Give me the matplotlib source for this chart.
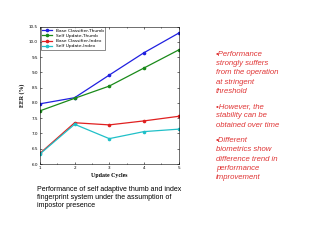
import matplotlib
matplotlib.use("Agg")
import matplotlib.pyplot as plt
from matplotlib.ticker import MultipleLocator

# update cycles and EER (%)
cycles = [1, 2, 3, 4, 5]
base_thumb = [7.97, 8.17, 8.91, 9.64, 10.28]
self_thumb = [7.74, 8.15, 8.55, 9.14, 9.73]
base_index = [6.35, 7.35, 7.28, 7.41, 7.56]
self_index = [6.33, 7.30, 6.83, 7.06, 7.14]
labels = ["Base Classifier-Thumb", "Self Update-Thumb",
          "Base Classifier-Index", "Self Update-Index"]
colors = ["#2020e0", "#1a8a1a", "#e02020", "#20c0c8"]

notes = [
    ["\u2022Performance", "strongly suffers", "from the operation",
     "at stringent", "threshold"],
    ["\u2022However, the", "stability can be", "obtained over time"],
    ["\u2022Different", "biometrics show", "difference trend in",
     "performance", "improvement"],
]
caption = ["Performance of self adaptive thumb and index",
           "fingerprint system under the assumption of",
           "impostor presence"]

W, H = 320, 240
fig = plt.figure(figsize=(3.2, 2.4), dpi=100)
ax = fig.add_axes([40 / W, 1 - 164 / H, 138.5 / W, 137.5 / H])

for ys, lab, c in zip([base_thumb, self_thumb, base_index, self_index], labels, colors):
    ax.plot(cycles, ys, color=c, lw=0.9, marker="o", ms=1.6, label=lab)

ax.set_xlim(1, 5)
ax.set_ylim(6, 10.5)
ax.xaxis.set_major_locator(MultipleLocator(1))
ax.xaxis.set_minor_locator(MultipleLocator(0.5))
ax.yaxis.set_major_locator(MultipleLocator(0.5))
ax.tick_params(which="both", direction="in", top=True, right=True,
               labelsize=3, length=1.5, width=0.4, pad=1.5)
ax.tick_params(which="minor", length=1)
for s in ax.spines.values():
    s.set_linewidth(0.4)
ax.set_xlabel("Update Cycles", family="Liberation Serif", fontweight="bold",
              fontsize=4.2, labelpad=2)
ax.set_ylabel("EER (%)", family="Liberation Serif", fontweight="bold",
              fontsize=4.2, labelpad=3)
leg = ax.legend(loc="upper left", fontsize=3.2, frameon=True, fancybox=False,
                borderpad=0.3, labelspacing=0.25, handlelength=2.2,
                borderaxespad=0.2, edgecolor="black")
leg.get_frame().set_linewidth(0.4)

y = 54
for block in notes:
    for line in block:
        fig.text(216 / W, 1 - y / H, line, color="#e03535", style="italic",
                 family="Liberation Sans", fontsize=5.6, va="center")
        y += 9.4
    y += 5.5

for i, line in enumerate(caption):
    fig.text(37 / W, 1 - (189.5 + 8 * i) / H, line, color="black",
             family="Liberation Sans", fontsize=5.0, va="center")

fig.savefig("out.png", dpi=100)
